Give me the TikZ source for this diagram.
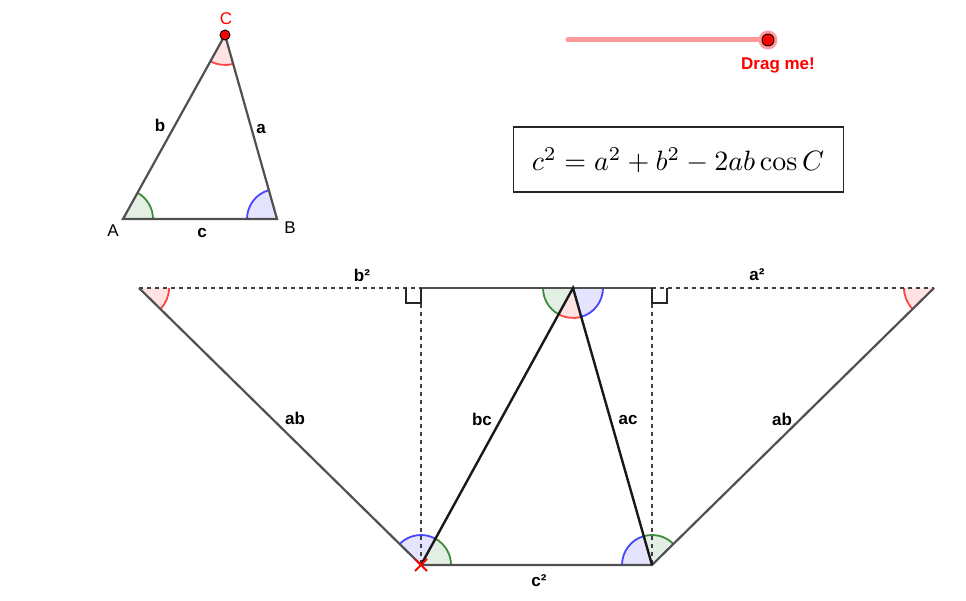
\documentclass[tikz,border=0pt]{standalone}
\usepackage{fontspec}
\setsansfont{Liberation Sans}
\usetikzlibrary{angles}
\definecolor{gline}{HTML}{505050}
\definecolor{angG}{HTML}{3C8C3C}
\definecolor{angGf}{HTML}{E4EFE4}
\definecolor{angB}{HTML}{4646FF}
\definecolor{angBf}{HTML}{E4E4FF}
\definecolor{angR}{HTML}{FF4646}
\definecolor{angRf}{HTML}{FFE2E2}
\definecolor{slid}{HTML}{FF9A9A}
\begin{document}
\begin{tikzpicture}[x=1pt,y=1pt,
  lbl/.style={font=\fontsize{17}{19}\selectfont\sffamily\bfseries, inner sep=0pt},
  side/.style={draw=gline, line width=2.2pt},
  dside/.style={draw=black!90, line width=2.4pt},
  dsh/.style={draw=black!75, line width=2pt, dash pattern=on 4pt off 4pt},
  gang/.style={draw=angG, fill=angGf, line width=1.8pt, angle radius=30pt},
  bang/.style={draw=angB, fill=angBf, line width=1.8pt, angle radius=30pt},
  rang/.style={draw=angR, fill=angRf, line width=1.8pt, angle radius=30pt}]
\useasboundingbox (0,0) rectangle (966,601);
% small triangle
\coordinate (A) at (123,382);
\coordinate (B) at (277,382);
\coordinate (C) at (225,566);
\pic[gang] {angle = B--A--C};
\pic[bang] {angle = C--B--A};
\pic[rang] {angle = A--C--B};
\draw[side] (A) -- (B) -- (C) -- cycle;
\node[circle, fill=red, draw=black, line width=0.9pt, minimum size=10pt, inner sep=0pt] (Cpt) at (C) {};
\node[lbl, red, font=\fontsize{17}{19}\selectfont\sffamily] (lC) at (226,582) {C};
\node[lbl, font=\fontsize{17}{19}\selectfont\sffamily] (lA) at (113,370) {A};
\node[lbl, font=\fontsize{17}{19}\selectfont\sffamily] (lB) at (290,373) {B};
\node[lbl] (la) at (261,472) {a};
\node[lbl] (lb) at (160,476) {b};
\node[lbl] (lc) at (202,368) {c};
% big figure
\coordinate (L) at (139,313);
\coordinate (P) at (573,313);
\coordinate (Rt) at (934,313);
\coordinate (Q) at (421,36);
\coordinate (R) at (652,36);
\coordinate (F1) at (421,313);
\coordinate (F2) at (652,313);
\pic[rang] {angle = Q--L--P};
\pic[gang] {angle = L--P--Q};
\pic[rang] {angle = Q--P--R};
\pic[bang] {angle = R--P--Rt};
\pic[gang] {angle = R--Q--P};
\pic[bang] {angle = P--Q--L};
\pic[gang] {angle = Rt--R--P};
\pic[bang] {angle = P--R--Q};
\pic[rang] {angle = P--Rt--R};
\draw[dsh] (L) -- (F1);
\draw[dsh] (F2) -- (Rt);
\draw[side] (F1) -- (F2);
\draw[dsh] (F1) -- (Q);
\draw[dsh] (F2) -- (R);
\draw[draw=black!85, line width=1.8pt] (F1) -- +(0,-15) -- +(-15,-15) -- +(-15,0);
\draw[draw=black!85, line width=1.8pt] (F2) -- +(0,-15) -- +(15,-15) -- +(15,0);
\draw[side] (L) -- (Q) -- (R) -- (Rt);
\draw[dside] (Q) -- (P) -- (R);
\draw[red, line width=2pt] (Q) +(-6,-6) -- +(6,6) (Q) +(-6,6) -- +(6,-6);
\node[lbl] (lb2) at (362,326) {b²};
\node[lbl] (la2) at (757,326) {a²};
\node[lbl] (lab1) at (295,183) {ab};
\node[lbl] (lbc) at (482,182) {bc};
\node[lbl] (lac) at (628,181) {ac};
\node[lbl] (lab2) at (782,182) {ab};
\node[lbl] (lc2) at (539,20) {c²};
% formula
\node[draw=black!85, line width=1.8pt, minimum width=330pt, minimum height=65pt, inner sep=0pt] (box) at (678.5,441.5) {};
\node[scale=2.8, inner sep=0pt] (formula) at (678,441) {$c^2 = a^2 + b^2 - 2ab\cos C$};
% slider
\coordinate (s0) at (568,561);
\coordinate (s1) at (768,561);
\draw[slid, line width=5pt, line cap=round] (s0) -- (s1);
\node[circle, fill=slid, minimum size=19pt, inner sep=0pt] (halo) at (s1) {};
\node[circle, fill=red, draw=black, line width=0.9pt, minimum size=12pt, inner sep=0pt] (knob) at (s1) {};
\node[lbl, red] (drag) at (778,536) {Drag me!};
\end{tikzpicture}
\end{document}
